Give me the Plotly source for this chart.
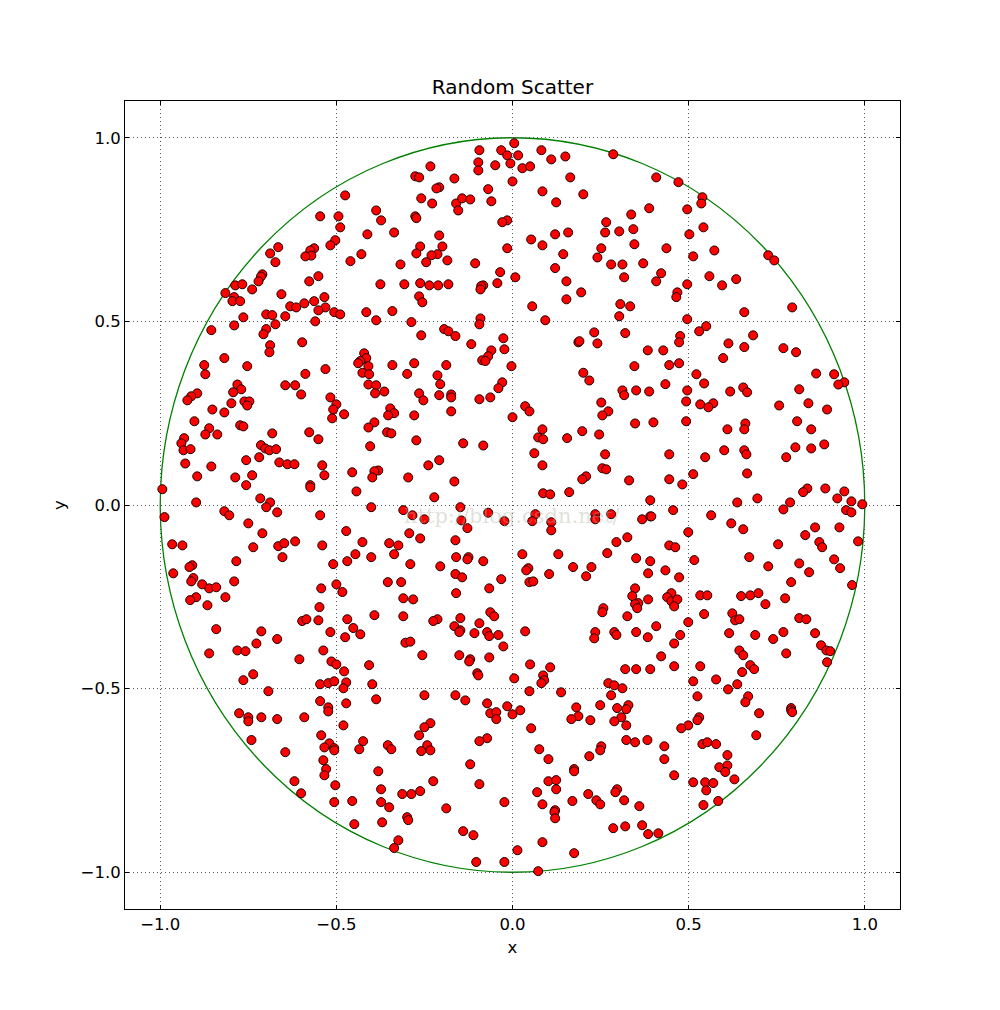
import plotly.graph_objects as go

# Scatter values, grouped by region of the plot.
points_upper_left = [
(-.475,.843),(-.546,.786),(-.494,.786),(-.489,.756),(-.387,.802),(-.373,.775),(-.412,.737),(-.503,.721),(-.517,.707),
(-.563,.699),(-.574,.693),(-.665,.702),(-.688,.685),(-.673,.661),(-.571,.679),(-.588,.677),(-.429,.683),(-.460,.664),
(-.710,.628),(-.714,.622),(-.721,.609),(-.551,.623),(-.577,.609),(-.787,.598),(-.767,.601),(-.739,.587),(-.375,.601),
(-.815,.577),(-.790,.566),(-.795,.555),(-.773,.555),(-.656,.574),(-.534,.566),(-.563,.555),(-.591,.549),(-.631,.541),
(-.614,.538),(-.531,.538),(-.551,.530),(-.506,.525),(-.489,.519),(-.415,.525),(-.699,.519),(-.682,.517),(-.645,.514),
(-.764,.511),(-.387,.503),(-.560,.500),(-.673,.492),(-.790,.489),(-.855,.476),(-.699,.479),(-.707,.465),(-.597,.443),
(-.688,.435),(-.690,.416),(-.421,.413),(-.415,.400),(-.432,.392),(-.438,.386),(-.409,.378),(-.818,.400),(-.875,.381),
(-.753,.378),(-.531,.370),
]
points_upper_mid = [
(.005,.985),(-.094,.966),(-.032,.966),(-.015,.952),(.016,.952),(.082,.966),(.110,.941),(.150,.949),(.286,.955),
(-.097,.933),(-.049,.925),(-.006,.930),(.028,.917),(.050,.922),(-.097,.911),(-.233,.922),(-.276,.895),(-.265,.892),
(-.165,.889),(.164,.892),(0,.881),(-.208,.865),(-.216,.862),(-.069,.860),(.085,.854),(.201,.846),(-.259,.835),
(-.228,.821),(-.160,.821),(-.143,.835),(-.120,.832),(-.060,.827),(.124,.824),(-.154,.802),(-.276,.786),(-.273,.781),
(.337,.791),(.266,.770),(-.015,.775),(-.029,.770),(-.336,.742),(.263,.742),(.303,.745),(.343,.751),(.158,.742),
(.121,.737),(-.208,.734),(.053,.723),(.085,.707),(.346,.710),(-.262,.704),(-.199,.704),(-.015,.699),(.252,.699),
(-.213,.683),(-.230,.680),(-.273,.685),(.144,.683),(.241,.674),(-.185,.666),(-.245,.661),(-.318,.655),(-.106,.658),
(.280,.655),(.312,.655),(.371,.658),(.121,.645),(-.035,.634),(.008,.620),(.317,.620),(-.307,.601),(-.262,.604),
(-.236,.598),(-.211,.598),(-.182,.601),(-.083,.598),(-.089,.596),(-.091,.587),(-.043,.604),(.153,.609),(.195,.579),
(-.265,.568),(-.256,.552),(.153,.560),(.306,.547),(.334,.541),(-.341,.528),(.056,.541),(.303,.514),(-.091,.508),
(-.094,.492),(-.287,.498),(.093,.503),(.232,.470),(.320,.468),(-.194,.479),(-.182,.473),(-.162,.460),(-.259,.462),
(-.026,.454),(.187,.443),(.190,.446),(.241,.440),(-.117,.438),(-.023,.424),(-.060,.421),(-.069,.405),(-.086,.394),
(-.077,.392),(-.341,.381),(-.279,.386),(-.188,.381),(-.003,.378),(.346,.378),
]
points_upper_right = [
(.408,.892),(.471,.879),(.539,.838),(.536,.821),(.388,.808),(.496,.805),(.542,.756),(.502,.737),(.437,.699),
(.573,.693),(.513,.677),(.726,.680),(.743,.666),(.422,.631),(.408,.609),(.559,.623),(.635,.615),(.595,.598),
(.496,.601),(.468,.579),(.465,.566),(.658,.525),(.794,.538),(.496,.506),(.550,.487),(.530,.473),(.476,.460),
(.473,.443),(.683,.462),(.613,.440),(.658,.430),(.769,.427),(.805,.416),(.428,.421),(.384,.421),(.598,.400),
(.473,.386),(.445,.381),
]
points_middle_left = [
(-.872,.356),(-.588,.357),(-.426,.360),(-.407,.356),(-.781,.328),(-.770,.315),(-.793,.307),(-.645,.326),(-.617,.326),
(-.600,.301),(-.409,.328),(-.387,.326),(-.390,.304),(-.364,.309),(-.895,.304),(-.912,.296),(-.923,.285),(-.517,.293),
(-.798,.277),(-.761,.282),(-.747,.282),(-.753,.271),(-.500,.274),(-.852,.260),(-.509,.260),(-.818,.252),(-.478,.247),
(-.903,.228),(-.512,.236),(-.392,.225),(-.773,.217),(-.764,.214),(-.409,.211),(-.861,.209),(-.872,.192),(-.838,.192),
(-.682,.195),(-.577,.198),(-.551,.179),(-.932,.182),(-.940,.168),(-.934,.149),(-.914,.152),(-.714,.163),(-.702,.154),
(-.690,.149),(-.671,.152),(-.404,.160),(-.719,.130),(-.756,.122),(-.662,.116),(-.639,.111),(-.619,.111),(-.929,.113),
(-.855,.105),(-.540,.108),(-.895,.078),(-.534,.081),(-.455,.089),(-.381,.094),(-.392,.092),(-.398,.075),(-.787,.075),
(-.739,.081),(-.756,.054),(-.574,.054),(-.574,.048),(-.994,.043),(-.443,.037),(-.716,.018),(-.898,.007),(-.688,.007),
(-.401,-.006),(-.699,-.006),(-.818,-.017),(-.804,-.028),(-.668,-.020),(-.546,-.028),(-.988,-.033),(-.750,-.050),
(-.472,-.071),(-.710,-.077),(-.966,-.107),(-.937,-.110),(-.736,-.115),(-.665,-.112),(-.648,-.104),(-.617,-.099),
(-.540,-.110),(-.426,-.101),(-.446,-.134),(-.653,-.142),(-.401,-.142),(-.469,-.153),(-.784,-.153),(-.509,-.161),
(-.909,-.164),(-.917,-.169),(-.963,-.186),(-.906,-.199),(-.912,-.208),(-.790,-.208),(-.500,-.216),(-.881,-.216),
(-.861,-.227),(-.841,-.224),(-.543,-.227),(-.483,-.237),(-.815,-.251),(-.898,-.251),(-.915,-.259),(-.866,-.273),
(-.548,-.278),(-.392,-.300),(-.597,-.316),(-.585,-.311),(-.551,-.314),(-.469,-.311),(-.841,-.338),(-.713,-.344),
(-.452,-.335),(-.517,-.346),(-.432,-.352),(-.475,-.360),(-.668,-.365),
]
points_middle_mid = [
(-.299,.357),(-.213,.353),(-.205,.329),(.201,.360),(.218,.339),(-.029,.334),(-.040,.318),(.312,.312),(.317,.299),
(.351,.312),(-.265,.304),(-.253,.285),(-.208,.299),(-.174,.301),(-.174,.293),(-.094,.288),(-.063,.293),(.252,.279),
(.036,.269),(.048,.255),(.272,.255),(.255,.244),(-.174,.255),(-.347,.263),(-.336,.250),(-.353,.244),(-.279,.244),
(0,.239),(.348,.222),(.085,.206),(.198,.201),(.246,.192),(.073,.184),(.087,.179),(.155,.182),(-.356,.198),(-.344,.195),
(-.273,.176),(-.140,.168),(-.083,.162),(.062,.141),(.263,.138),(.085,.108),(-.208,.122),(-.239,.108),(.255,.100),
(.266,.097),(-.296,.075),(-.165,.064),(.209,.078),(.198,.070),(.331,.067),(-.222,.021),(.087,.032),(.107,.029),
(.161,.035),(-.310,-.014),(-.148,-.006),(-.069,-.021),(-.284,-.028),(-.250,-.039),(-.145,-.042),(-.023,-.044),
(.065,-.025),(.056,-.044),(.235,-.025),(.235,-.039),(.280,-.025),(.110,-.047),(.110,-.069),(.368,-.039),(-.128,-.063),
(-.293,-.077),(-.262,-.091),(-.162,-.096),(.326,-.088),(.295,-.101),(-.350,-.104),(-.324,-.110),(-.336,-.134),
(.028,-.134),(.130,-.134),(.269,-.131),(-.160,-.142),(-.125,-.142),(-.128,-.148),(-.083,-.153),(.351,-.145),
(-.290,-.161),(-.205,-.167),(.172,-.169),(.224,-.169),(.045,-.172),(.039,-.178),(-.162,-.188),(-.143,-.197),
(.104,-.188),(.209,-.194),(-.032,-.202),(-.354,-.210),(-.316,-.210),(.048,-.210),(.059,-.208),(-.066,-.227),
(-.160,-.240),(.348,-.227),(-.310,-.254),(-.282,-.257),(.340,-.248),(.357,-.267),(.348,-.270),(.354,-.281),
(.258,-.281),(.255,-.292),(-.063,-.292),(-.052,-.303),(-.310,-.303),(.326,-.303),(-.213,-.311),(-.225,-.316),
(-.148,-.308),(-.094,-.322),(-.165,-.330),(-.148,-.341),(-.151,-.346),(-.108,-.349),(-.072,-.346),(-.040,-.354),
(-.066,-.357),(.036,-.344),(.235,-.346),(.289,-.346),(.295,-.354),(.351,-.346),(.232,-.363),
]
points_middle_right = [
(.522,.356),(.544,.331),(.434,.329),(.388,.309),(.496,.312),(.618,.309),(.655,.320),(.666,.307),(.814,.315),
(.862,.358),(.913,.356),(.942,.334),(.925,.328),(.493,.282),(.533,.274),(.570,.277),(.556,.266),(.757,.271),
(.840,.277),(.893,.260),(.400,.225),(.493,.228),(.808,.228),(.661,.222),(.658,.206),(.610,.206),(.848,.206),
(.885,.165),(.803,.157),(.848,.154),(.658,.149),(.664,.138),(.601,.149),(.445,.138),(.547,.130),(.777,.130),
(.513,.084),(.666,.086),(.445,.070),(.482,.056),(.837,.045),(.825,.035),(.888,.045),(.942,.037),(.922,.018),
(.962,.010),(.993,.002),(.695,.018),(.788,.007),(.638,.007),(.391,.013),(.456,-.014),(.769,-.012),(.947,-.014),
(.962,-.020),(.564,-.028),(.391,-.031),(.394,-.031),(.621,-.050),(.655,-.066),(.859,-.061),(.928,-.061),(.499,-.074),
(.831,-.082),(.871,-.101),(.879,-.115),(.981,-.099),(.754,-.107),(.445,-.110),(.462,-.115),(.672,-.142),(.516,-.150),
(.391,-.153),(.913,-.148),(.814,-.159),(.726,-.167),(.930,-.172),(.842,-.183),(.434,-.178),(.385,-.186),(.473,-.197),
(.791,-.210),(.964,-.218),(.451,-.240),(.439,-.251),(.451,-.262),(.468,-.257),(.459,-.276),(.385,-.257),(.533,-.246),
(.553,-.246),(.649,-.248),(.675,-.246),(.698,-.240),(.774,-.254),(.718,-.270),(.544,-.297),(.624,-.295),(.632,-.314),
(.644,-.311),(.814,-.308),(.834,-.311),(.499,-.319),(.408,-.330),(.476,-.354),(.615,-.349),(.689,-.354),(.769,-.346),
(.859,-.349),(.740,-.365),(.384,-.360),
]
points_lower_left = [
(-.861,-.404),(-.781,-.396),(-.758,-.398),(-.727,-.377),(-.605,-.420),(-.537,-.396),(-.514,-.426),(-.500,-.434),
(-.407,-.436),(-.478,-.453),(-.736,-.461),(-.764,-.477),(-.693,-.507),(-.546,-.488),(-.523,-.485),(-.506,-.480),
(-.472,-.483),(-.398,-.488),(-.480,-.499),(-.387,-.529),(-.546,-.534),(-.472,-.540),(-.523,-.551),(-.523,-.562),
(-.776,-.567),(-.750,-.578),(-.750,-.589),(-.713,-.578),(-.668,-.583),(-.591,-.578),(-.480,-.600),(-.543,-.627),
(-.741,-.640),(-.645,-.673),(-.520,-.649),(-.534,-.660),(-.506,-.662),(-.506,-.668),(-.424,-.643),(-.435,-.665),
(-.537,-.695),(-.529,-.719),(-.534,-.736),(-.381,-.725),(-.503,-.763),(-.619,-.752),(-.600,-.785),(-.373,-.774),
(-.506,-.809),(-.455,-.806),(-.373,-.809),(-.449,-.869),(-.370,-.864),
]
points_lower_mid = [
(-.304,-.375),(-.290,-.372),(-.026,-.385),(-.256,-.409),(-.151,-.409),(-.120,-.420),(-.123,-.426),(-.066,-.415),
(.050,-.434),(.107,-.442),(.320,-.447),(.351,-.447),(-.100,-.458),(-.097,-.464),(.005,-.472),(.087,-.464),(.090,-.477),
(.082,-.485),(.272,-.485),(.289,-.491),(.312,-.499),(.048,-.507),(.138,-.510),(.280,-.518),(-.250,-.518),(-.162,-.518),
(-.134,-.532),(-.072,-.540),(-.015,-.548),(.181,-.551),(.249,-.545),(.329,-.545),(.297,-.553),(.323,-.556),(.022,-.559),
(-.063,-.567),(-.046,-.564),(0,-.570),(-.046,-.583),(.187,-.575),(.167,-.583),(.221,-.586),(.309,-.578),(.289,-.589),
(.323,-.600),(-.233,-.594),(-.250,-.605),(.053,-.608),(-.265,-.627),(-.072,-.635),(-.094,-.643),(.323,-.640),(.348,-.646),
(-.354,-.654),(-.344,-.665),(-.242,-.654),(-.259,-.670),(-.233,-.668),(.076,-.665),(.252,-.657),(.249,-.668),(.102,-.692),
(.218,-.684),(-.120,-.706),(.175,-.719),(.175,-.725),(-.225,-.752),(-.094,-.760),(.102,-.752),(.124,-.749),(.124,-.774),
(.070,-.782),(-.313,-.787),(-.287,-.787),(-.262,-.779),(.297,-.774),(.292,-.782),(.215,-.787),(.238,-.804),(.249,-.815),
(.317,-.804),(.360,-.820),(.170,-.806),(.085,-.815),(-.023,-.809),(-.350,-.823),(-.188,-.826),(.121,-.831),(.119,-.836),
(.121,-.853),(-.299,-.850),(-.296,-.858),(.320,-.875),(.286,-.880),(.368,-.872),(-.140,-.888),(-.111,-.899),(-.324,-.913),
(.085,-.918),(-.336,-.934),(.014,-.940),(.175,-.948),(-.103,-.972),(-.023,-.972),(.073,-.997),
]
points_lower_right = [
(.459,-.377),(.422,-.412),(.644,-.396),(.655,-.409),(.777,-.404),(.876,-.382),(.891,-.396),(.902,-.398),(.893,-.428),
(.391,-.447),(.459,-.439),(.533,-.439),(.675,-.436),(.686,-.447),(.652,-.455),(.513,-.480),(.578,-.475),(.638,-.488),
(.612,-.502),(.525,-.521),(.669,-.521),(.661,-.537),(.791,-.553),(.791,-.559),(.794,-.564),(.700,-.567),(.530,-.578),
(.525,-.586),(.499,-.600),(.479,-.608),(.692,-.627),(.383,-.640),(.431,-.657),(.539,-.651),(.553,-.646),(.578,-.651),
(.610,-.681),(.431,-.692),(.587,-.714),(.610,-.709),(.604,-.727),(.630,-.747),(.459,-.736),(.513,-.755),(.547,-.755),
(.570,-.757),(.550,-.777),(.584,-.806),(.542,-.817),(.414,-.894),(.385,-.896),
]
tick_values = [-1.0, -0.5, 0.0, 0.5, 1.0]

all_points = (points_upper_left + points_upper_mid + points_upper_right
              + points_middle_left + points_middle_mid + points_middle_right
              + points_lower_left + points_lower_mid + points_lower_right)
xs = [p[0] for p in all_points]
ys = [p[1] for p in all_points]

FONT = "DejaVu Sans"
fig = go.Figure()
fig.add_shape(type="circle", xref="x", yref="y", x0=-1, x1=1, y0=-1, y1=1,
              line=dict(color="#008000", width=1.3), layer="below")
fig.add_trace(go.Scatter(x=xs, y=ys, mode="markers", showlegend=False,
                         marker=dict(color="#ff0000", size=9,
                                     line=dict(color="#1a0000", width=1))))
axis = dict(range=[-1.1, 1.1], tickvals=tick_values, tickformat=".1f",
            ticks="inside", ticklen=4, tickwidth=1, tickcolor="black",
            showline=True, mirror="allticks", linecolor="black", linewidth=1,
            showgrid=True, gridcolor="#555555", griddash="1px,3px", gridwidth=1,
            zeroline=False, tickfont=dict(family=FONT, size=16.5, color="black"))
fig.update_xaxes(**axis, title=dict(text="x", font=dict(family=FONT, size=16.5, color="black"), standoff=8))
fig.update_yaxes(**axis, title=dict(text="y", font=dict(family=FONT, size=16.5, color="black"), standoff=10))
fig.update_layout(
    width=1000, height=1010, autosize=False,
    margin=dict(l=125, r=100, t=101, b=101),
    paper_bgcolor="white", plot_bgcolor="white",
    title=dict(text="Random Scatter", x=0.5125, xanchor="center", y=0.914, yanchor="middle",
               font=dict(family=FONT, size=20, color="black")),
    annotations=[dict(text="http://blog.csdn.net/", x=0, y=-0.03, xref="x", yref="y",
                      showarrow=False, font=dict(family="DejaVu Serif", size=21, color="rgba(175,175,160,0.4)"))],
)
fig.write_html("out.html", config={"displayModeBar": False}, post_script="document.body.style.margin='0';")
